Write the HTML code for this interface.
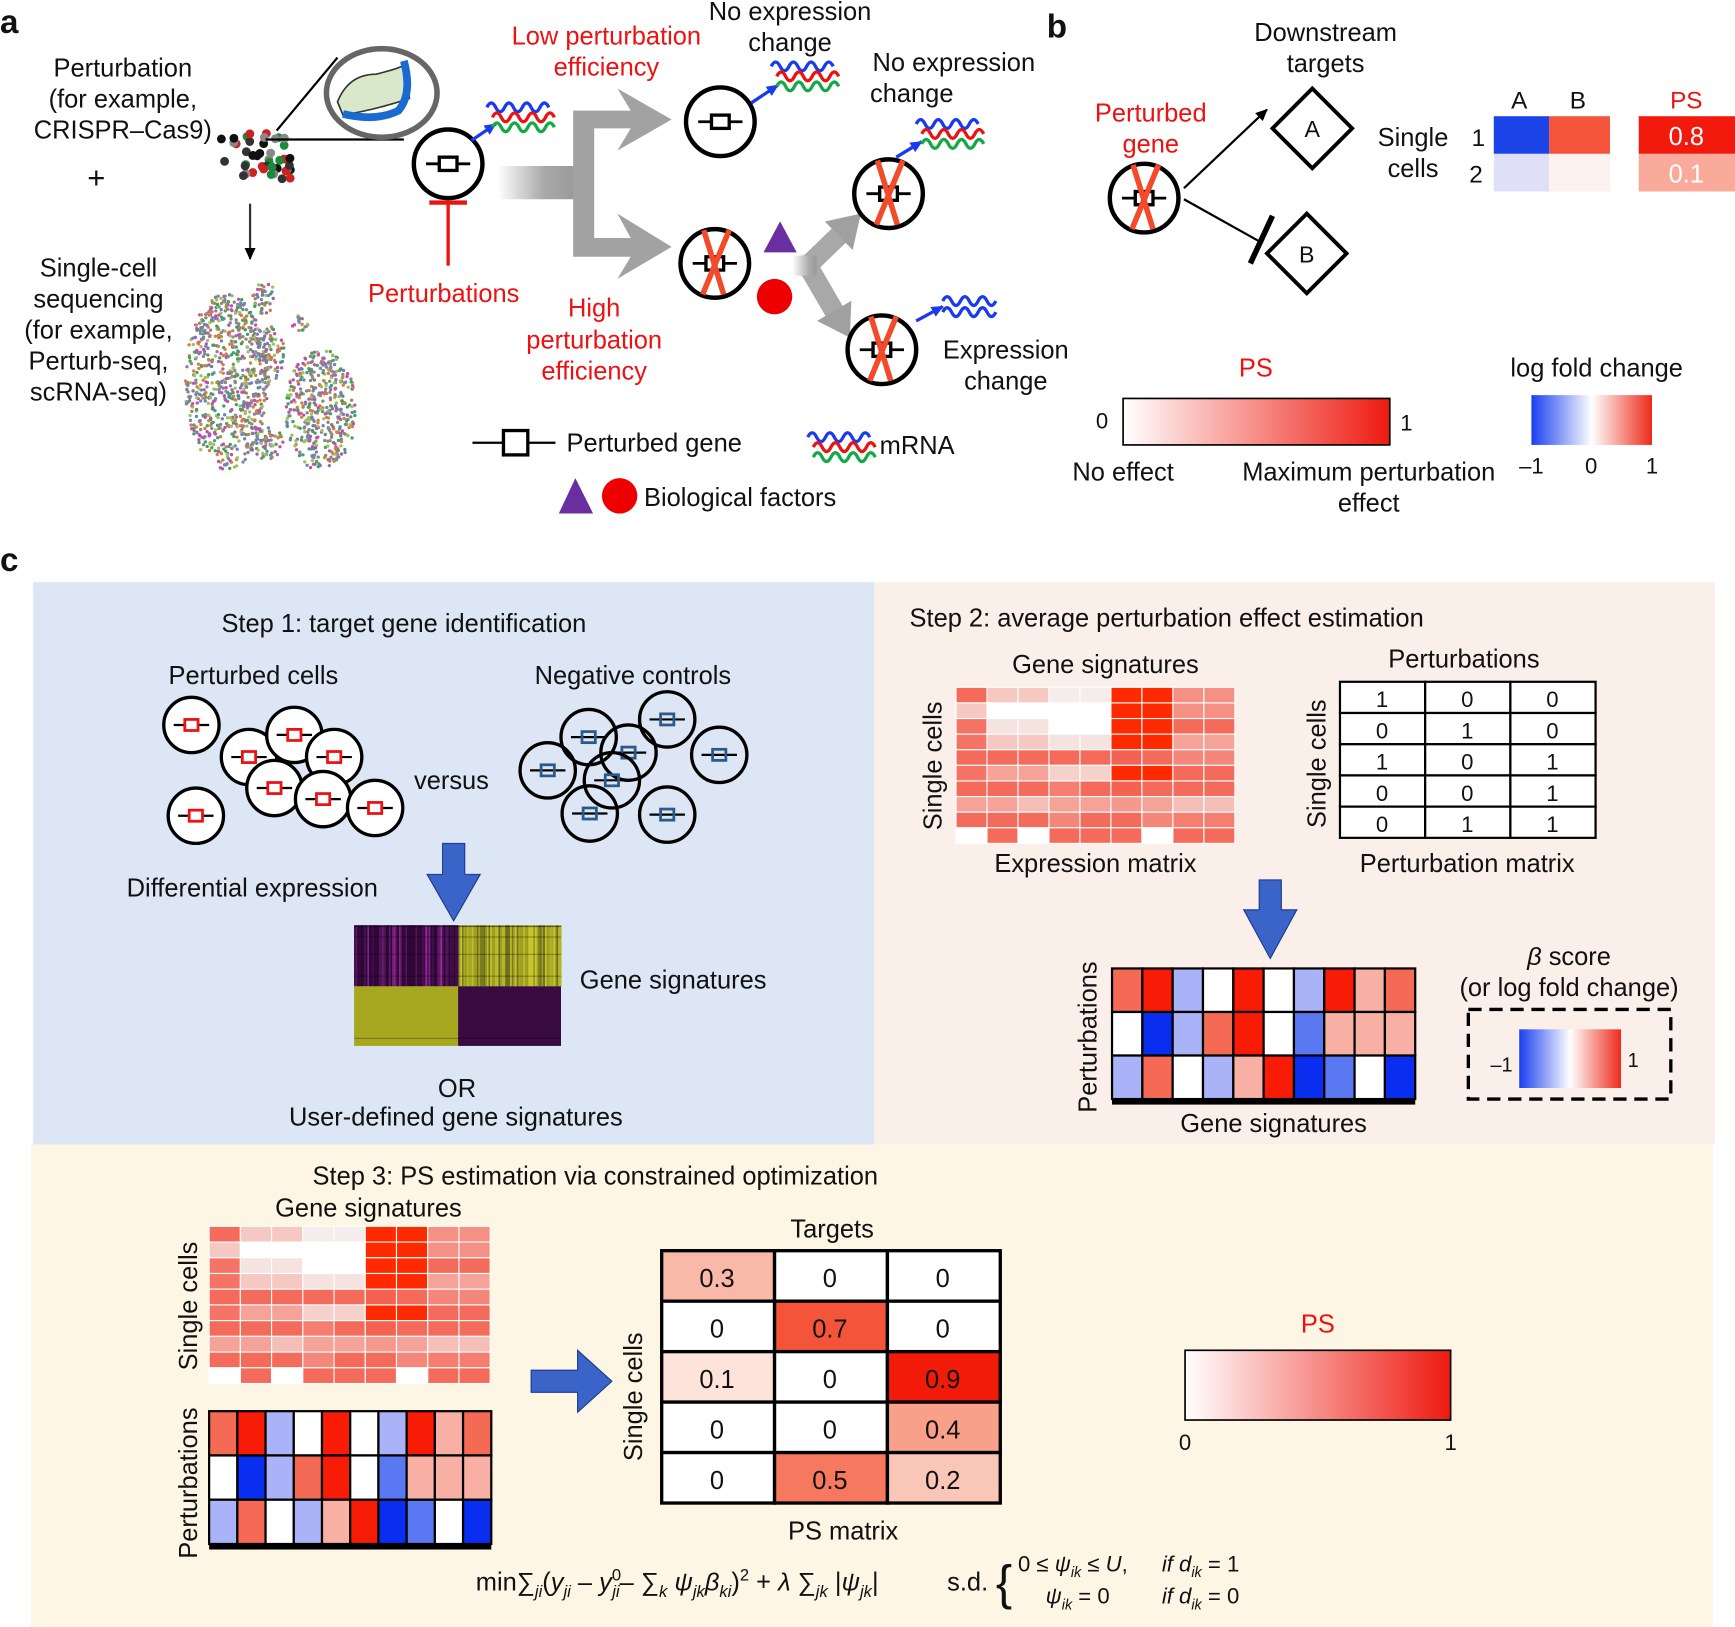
<!DOCTYPE html>
<html><head><meta charset="utf-8"><style>
html,body{margin:0;padding:0;background:#fff}
svg{display:block}
text{font-family:"Liberation Sans",sans-serif;fill:#111}
.r{fill:#ee1111}
</style></head><body>
<svg id="s" width="1735" height="1627" viewBox="0 0 1568 1470" preserveAspectRatio="none" xmlns="http://www.w3.org/2000/svg">
<defs>
<linearGradient id="ps" x1="0" x2="1"><stop offset="0" stop-color="#fff"/><stop offset="1" stop-color="#ee1a10"/></linearGradient>
<linearGradient id="lfc" x1="0" x2="1"><stop offset="0" stop-color="#1a3ff0"/><stop offset="0.5" stop-color="#fff"/><stop offset="1" stop-color="#ee2a1a"/></linearGradient>
<linearGradient id="gr" x1="0" x2="1"><stop offset="0" stop-color="#fff"/><stop offset="0.6" stop-color="#a8a8a8"/><stop offset="1" stop-color="#9a9a9a"/></linearGradient>
<linearGradient id="gr2" x1="0" x2="1"><stop offset="0" stop-color="#fff"/><stop offset="0.7" stop-color="#aaa"/><stop offset="1" stop-color="#999"/></linearGradient>
<g id="cell"><circle r="31" fill="#fff" stroke="#000" stroke-width="4"/><line x1="-20" y1="0" x2="20" y2="0" stroke="#000" stroke-width="2.5"/><rect x="-8" y="-6" width="16" height="12" fill="#fff" stroke="#000" stroke-width="3"/></g>
<g id="xc"><use href="#cell"/><line x1="-10" y1="-30" x2="8" y2="28" stroke="#f24a2a" stroke-width="5"/><line x1="13" y1="-30" x2="-11" y2="28" stroke="#f24a2a" stroke-width="5"/></g>
<g id="rc"><circle r="25" fill="#fff" stroke="#000" stroke-width="3"/><line x1="-16" y1="0" x2="16" y2="0" stroke="#000" stroke-width="2"/><rect x="-6" y="-5" width="12" height="10" fill="#fff" stroke="#e11" stroke-width="2.5"/></g>
<g id="bc"><circle r="25" fill="none" stroke="#000" stroke-width="3"/><line x1="-16" y1="0" x2="16" y2="0" stroke="#000" stroke-width="2"/><rect x="-6" y="-5" width="12" height="10" fill="none" stroke="#2a5a8a" stroke-width="2.5"/></g>
<g id="wv"><path d="M0,0 q4,-8 8,0 t8,0 t8,0 t8,0 t8,0 t8,0 t8,0" fill="none" stroke="#1a3af0" stroke-width="3"/><path d="M0,9 q4,-8 8,0 t8,0 t8,0 t8,0 t8,0 t8,0 t8,0" transform="translate(5,0)" fill="none" stroke="#ee1111" stroke-width="3"/><path d="M0,18 q4,-8 8,0 t8,0 t8,0 t8,0 t8,0 t8,0 t8,0" transform="translate(5,0)" fill="none" stroke="#11aa44" stroke-width="3"/></g>
<marker id="ah" markerUnits="userSpaceOnUse" markerWidth="12" markerHeight="12" refX="10" refY="5" orient="auto"><path d="M0,0 L11,5 L0,10 z" fill="#1a3af0"/></marker>
<marker id="ak" markerUnits="userSpaceOnUse" markerWidth="12" markerHeight="12" refX="10" refY="5" orient="auto"><path d="M0,0 L11,5 L0,10 z" fill="#000"/></marker>
</defs>

<text x="0" y="30" font-size="30" font-weight="bold">a</text>
<text x="946" y="34" font-size="30" font-weight="bold">b</text>
<text x="0" y="516" font-size="30" font-weight="bold">c</text>

<g font-size="23" text-anchor="middle">
<text x="111" y="69">Perturbation</text>
<text x="111" y="97">(for example,</text>
<text x="111" y="125">CRISPR–Cas9)</text>
<text x="87" y="170" font-size="28">+</text>
<text x="89" y="250">Single-cell</text>
<text x="89" y="278">sequencing</text>
<text x="89" y="306">(for example,</text>
<text x="89" y="334">Perturb-seq,</text>
<text x="89" y="362">scRNA-seq)</text>
</g>
<g id="dots"></g>
<line x1="240" y1="126" x2="365" y2="126" stroke="#000" stroke-width="2"/>
<line x1="250" y1="118" x2="305" y2="52" stroke="#000" stroke-width="2"/>
<ellipse cx="345" cy="84" rx="50" ry="40" fill="#fff" stroke="#666" stroke-width="5"/>
<path d="M305,92 q10,-25 35,-25 q20,-5 25,-8 l5,30 q-30,10 -60,15 z" fill="#d9e8c8" stroke="#333" stroke-width="1.5"/>
<path d="M365,55 q8,30 -5,45 q-20,10 -50,3" fill="none" stroke="#1a6ad0" stroke-width="7"/>
<line x1="226" y1="184" x2="226" y2="234" stroke="#333" stroke-width="2" marker-end="url(#ak)"/>
<g id="umap"></g>

<use href="#cell" x="405" y="148"/>
<line x1="426" y1="127" x2="448" y2="112" stroke="#1a3af0" stroke-width="3" marker-end="url(#ah)"/>
<use href="#wv" x="440" y="97"/>
<line x1="405" y1="183" x2="405" y2="240" stroke="#ee1111" stroke-width="3"/>
<line x1="388" y1="183" x2="422" y2="183" stroke="#ee1111" stroke-width="4"/>
<text x="401" y="273" font-size="23" class="r" text-anchor="middle">Perturbations</text>
<text x="548" y="40" font-size="23" class="r" text-anchor="middle">Low perturbation</text>
<text x="548" y="68" font-size="23" class="r" text-anchor="middle">efficiency</text>
<text x="537" y="286" font-size="23" class="r" text-anchor="middle">High</text>
<text x="537" y="315" font-size="23" class="r" text-anchor="middle">perturbation</text>
<text x="537" y="343" font-size="23" class="r" text-anchor="middle">efficiency</text>
<polygon points="450,150 520,150 520,180 450,180" fill="url(#gr)"/>
<polygon points="518,100 570,100 558,80 607,108 558,136 570,116 537,116 537,215 570,215 558,193 607,223 558,252 570,232 518,232" fill="#a2a2a2"/>
<use href="#cell" x="651" y="110"/>
<line x1="679" y1="93" x2="703" y2="77" stroke="#1a3af0" stroke-width="3" marker-end="url(#ah)"/>
<use href="#wv" x="697" y="60"/>
<text x="714" y="18" font-size="23" text-anchor="middle">No expression</text>
<text x="714" y="46" font-size="23" text-anchor="middle">change</text>
<use href="#xc" x="646" y="238"/>
<polygon points="705,200 690,228 720,228" fill="#6a2ea0"/>
<circle cx="700" cy="268" r="16" fill="#ee0000"/>
<!-- second-stage gray arrows -->
<polygon points="722,230 738,230 738,250 722,250" fill="url(#gr2)"/>
<line x1="730" y1="240" x2="760" y2="211" stroke="#a8a8a8" stroke-width="18"/>
<polygon points="778,193 770.6,225.9 745.4,200.1" fill="#a0a0a0"/>
<line x1="730" y1="240" x2="755" y2="283" stroke="#a8a8a8" stroke-width="18"/>
<polygon points="768,305 769.4,271.7 738.4,289.9" fill="#a0a0a0"/>
<rect x="716" y="231" width="22" height="18" fill="url(#gr2)"/>
<use href="#xc" x="803" y="175"/>
<line x1="810" y1="142" x2="833" y2="128" stroke="#1a3af0" stroke-width="3" marker-end="url(#ah)"/>
<use href="#wv" x="828" y="112"/>
<text x="862" y="64" font-size="23" text-anchor="middle">No expression</text>
<text x="824" y="92" font-size="23" text-anchor="middle">change</text>
<use href="#xc" x="797" y="316"/>
<line x1="828" y1="290" x2="852" y2="277" stroke="#1a3af0" stroke-width="3" marker-end="url(#ah)"/>
<path d="M852,272 q4,-8 8,0 t8,0 t8,0 t8,0 t8,0 t8,0" fill="none" stroke="#1a3af0" stroke-width="3"/>
<path d="M852,282 q4,-8 8,0 t8,0 t8,0 t8,0 t8,0 t8,0" fill="none" stroke="#1a3af0" stroke-width="3"/>
<text x="909" y="324" font-size="23" text-anchor="middle">Expression</text>
<text x="909" y="352" font-size="23" text-anchor="middle">change</text>
<line x1="427" y1="400" x2="502" y2="400" stroke="#000" stroke-width="2"/>
<rect x="455" y="389" width="22" height="22" fill="#fff" stroke="#000" stroke-width="3"/>
<text x="512" y="408" font-size="23">Perturbed gene</text>
<use href="#wv" x="730" y="395"/>
<text x="795" y="410" font-size="23">mRNA</text>
<polygon points="520,432 505,464 536,464" fill="#6a2ea0"/>
<circle cx="560" cy="448" r="16" fill="#ee0000"/>
<text x="582" y="457" font-size="23">Biological factors</text>

<!-- panel b -->
<text x="1198" y="37" font-size="23" text-anchor="middle">Downstream</text>
<text x="1198" y="65" font-size="23" text-anchor="middle">targets</text>
<text x="1040" y="110" font-size="23" class="r" text-anchor="middle">Perturbed</text>
<text x="1040" y="138" font-size="23" class="r" text-anchor="middle">gene</text>
<use href="#xc" x="1034" y="179"/>
<line x1="1070" y1="170" x2="1145" y2="99" stroke="#000" stroke-width="2" marker-end="url(#ak)"/>
<line x1="1070" y1="180" x2="1138" y2="218" stroke="#000" stroke-width="2"/>
<line x1="1130" y1="238" x2="1150" y2="195" stroke="#000" stroke-width="5"/>
<polygon points="1186,80 1222,116 1186,152 1150,116" fill="#fff" stroke="#000" stroke-width="3.5"/>
<text x="1186" y="124" font-size="21" text-anchor="middle">A</text>
<polygon points="1181,193 1217,229 1181,265 1145,229" fill="#fff" stroke="#000" stroke-width="3.5"/>
<text x="1181" y="237" font-size="21" text-anchor="middle">B</text>
<text x="1277" y="132" font-size="23" text-anchor="middle">Single</text>
<text x="1277" y="160" font-size="23" text-anchor="middle">cells</text>
<text x="1336" y="132" font-size="22" text-anchor="middle">1</text>
<text x="1334" y="165" font-size="22" text-anchor="middle">2</text>
<text x="1373" y="98" font-size="22" text-anchor="middle">A</text>
<text x="1426" y="98" font-size="22" text-anchor="middle">B</text>
<rect x="1350" y="105" width="50" height="34" fill="#1a44e8"/>
<rect x="1400" y="105" width="55" height="34" fill="#f5533a"/>
<rect x="1350" y="139" width="50" height="34" fill="#dfe0f8"/>
<rect x="1400" y="139" width="55" height="34" fill="#fdf2f0"/>
<text x="1524" y="98" font-size="22" class="r" text-anchor="middle">PS</text>
<rect x="1481" y="105" width="87" height="34" fill="#f21a0c"/>
<rect x="1481" y="139" width="87" height="34" fill="#f9aa9a"/>
<text x="1524" y="131" font-size="23" text-anchor="middle" style="fill:#fff">0.8</text>
<text x="1524" y="165" font-size="23" text-anchor="middle" style="fill:#fff">0.1</text>
<text x="1135" y="340" font-size="23" class="r" text-anchor="middle">PS</text>
<rect x="1015" y="360" width="241" height="42" fill="url(#ps)" stroke="#000" stroke-width="1.5"/>
<text x="996" y="387" font-size="20" text-anchor="middle">0</text>
<text x="1271" y="389" font-size="20" text-anchor="middle">1</text>
<text x="1015" y="434" font-size="23" text-anchor="middle">No effect</text>
<text x="1237" y="434" font-size="23" text-anchor="middle">Maximum perturbation</text>
<text x="1237" y="462" font-size="23" text-anchor="middle">effect</text>
<text x="1443" y="340" font-size="23" text-anchor="middle">log fold change</text>
<rect x="1384" y="357" width="109" height="45" fill="url(#lfc)"/>
<text x="1384" y="428" font-size="20" text-anchor="middle">–1</text>
<text x="1438" y="428" font-size="20" text-anchor="middle">0</text>
<text x="1493" y="428" font-size="20" text-anchor="middle">1</text>

<rect x="30" y="526" width="760" height="508" fill="#dce6f4"/>
<rect x="790" y="526" width="760" height="508" fill="#fbefea"/>
<rect x="28" y="1034" width="1520" height="436" fill="#fdf6e5"/>

<text x="365" y="571" font-size="23" text-anchor="middle">Step 1: target gene identification</text>
<text x="229" y="618" font-size="23" text-anchor="middle">Perturbed cells</text>
<text x="572" y="618" font-size="23" text-anchor="middle">Negative controls</text>
<use href="#rc" x="173" y="655"/><use href="#rc" x="225" y="684"/><use href="#rc" x="266" y="664"/><use href="#rc" x="302" y="684"/><use href="#rc" x="248" y="712"/><use href="#rc" x="292" y="722"/><use href="#rc" x="339" y="730"/><use href="#rc" x="177" y="737"/>
<use href="#bc" x="532" y="666"/><use href="#bc" x="603" y="650"/><use href="#bc" x="650" y="682"/><use href="#bc" x="495" y="696"/><use href="#bc" x="568" y="680"/><use href="#bc" x="553" y="705"/><use href="#bc" x="533" y="735"/><use href="#bc" x="603" y="736"/>
<text x="408" y="713" font-size="23" text-anchor="middle">versus</text>
<polygon points="400,762 420,762 420,790 434,790 410,832 386,790 400,790" fill="#3a64c8" stroke="#1a3a90"/>
<text x="228" y="810" font-size="23" text-anchor="middle">Differential expression</text>
<g id="degs"></g>
<text x="524" y="893" font-size="23">Gene signatures</text>
<text x="413" y="991" font-size="23" text-anchor="middle">OR</text>
<text x="412" y="1017" font-size="23" text-anchor="middle">User-defined gene signatures</text>

<text x="822" y="566" font-size="23">Step 2: average perturbation effect estimation</text>
<text x="999" y="608" font-size="23" text-anchor="middle">Gene signatures</text>
<g id="expr1"></g>
<text transform="translate(851,692) rotate(-90)" font-size="23" text-anchor="middle">Single cells</text>
<text x="990" y="788" font-size="23" text-anchor="middle">Expression matrix</text>
<text x="1323" y="603" font-size="23" text-anchor="middle">Perturbations</text>
<text transform="translate(1198,690) rotate(-90)" font-size="23" text-anchor="middle">Single cells</text>
<g id="pm"></g>
<text x="1326" y="788" font-size="23" text-anchor="middle">Perturbation matrix</text>
<polygon points="1138,795 1158,795 1158,822 1172,822 1148,866 1124,822 1138,822" fill="#3a64c8" stroke="#1a3a90"/>
<g id="beta1"></g>
<text transform="translate(991,937) rotate(-90)" font-size="23" text-anchor="middle">Perturbations</text>
<text x="1151" y="1023" font-size="23" text-anchor="middle">Gene signatures</text>
<text x="1418" y="872" font-size="23" text-anchor="middle"><tspan font-style="italic">β</tspan> score</text>
<text x="1418" y="900" font-size="23" text-anchor="middle">(or log fold change)</text>
<rect x="1327" y="912" width="183" height="81" fill="none" stroke="#000" stroke-width="3" stroke-dasharray="12,7"/>
<rect x="1373" y="930" width="92" height="53" fill="url(#lfc)"/>
<text x="1357" y="968" font-size="18" text-anchor="middle">–1</text>
<text x="1476" y="964" font-size="18" text-anchor="middle">1</text>

<text x="538" y="1070" font-size="23" text-anchor="middle">Step 3: PS estimation via constrained optimization</text>
<text x="333" y="1099" font-size="23" text-anchor="middle">Gene signatures</text>
<g id="expr2"></g>
<text transform="translate(178,1180) rotate(-90)" font-size="23" text-anchor="middle">Single cells</text>
<g id="beta2"></g>
<text transform="translate(178,1340) rotate(-90)" font-size="23" text-anchor="middle">Perturbations</text>
<polygon points="480,1238 522,1238 522,1220 553,1248 522,1276 522,1258 480,1258" fill="#3a64c8" stroke="#1a3a90"/>
<text x="752" y="1118" font-size="23" text-anchor="middle">Targets</text>
<text transform="translate(580,1262) rotate(-90)" font-size="23" text-anchor="middle">Single cells</text>
<g id="psm"></g>
<text x="762" y="1391" font-size="23" text-anchor="middle">PS matrix</text>
<text x="1191" y="1204" font-size="23" class="r" text-anchor="middle">PS</text>
<rect x="1071" y="1220" width="240" height="63" fill="url(#ps)" stroke="#000" stroke-width="1.5"/>
<text x="1071" y="1310" font-size="20" text-anchor="middle">0</text>
<text x="1311" y="1310" font-size="20" text-anchor="middle">1</text>
<text x="430" y="1437" font-size="23">min∑<tspan font-size="15" dy="6" font-style="italic">ji</tspan><tspan dy="-6">(</tspan><tspan font-style="italic">y</tspan><tspan font-size="15" dy="6" font-style="italic">ji</tspan><tspan dy="-6"> – </tspan><tspan font-style="italic">y</tspan><tspan font-size="15" dy="-9">0</tspan><tspan font-size="15" dx="-8" dy="15" font-style="italic">ji</tspan><tspan dy="-6">– ∑</tspan><tspan font-size="15" dy="6" font-style="italic">k</tspan><tspan dy="-6" font-style="italic"> ψ</tspan><tspan font-size="15" dy="6" font-style="italic">jk</tspan><tspan dy="-6" font-style="italic">β</tspan><tspan font-size="15" dy="6" font-style="italic">ki</tspan><tspan dy="-6">)</tspan><tspan font-size="15" dy="-9">2</tspan><tspan dy="9"> + </tspan><tspan font-style="italic">λ</tspan><tspan> ∑</tspan><tspan font-size="15" dy="6" font-style="italic">jk</tspan><tspan dy="-6"> |</tspan><tspan font-style="italic">ψ</tspan><tspan font-size="15" dy="6" font-style="italic">jk</tspan><tspan dy="-6">|</tspan></text>
<text x="856" y="1437" font-size="23">s.d.</text>
<text x="900" y="1445" font-size="44">{</text>
<text x="920" y="1420" font-size="20">0 ≤ <tspan font-style="italic">ψ</tspan><tspan font-size="13" dy="5" font-style="italic">ik</tspan><tspan dy="-5"> ≤ </tspan><tspan font-style="italic">U</tspan>,</text>
<text x="945" y="1449" font-size="20" font-style="italic">ψ<tspan font-size="13" dy="5">ik</tspan><tspan dy="-5" font-style="normal"> = 0</tspan></text>
<text x="1050" y="1420" font-size="20" font-style="italic">if d<tspan font-size="13" dy="5">ik</tspan><tspan dy="-5" font-style="normal"> = 1</tspan></text>
<text x="1050" y="1449" font-size="20" font-style="italic">if d<tspan font-size="13" dy="5">ik</tspan><tspan dy="-5" font-style="normal"> = 0</tspan></text>
</svg>
<script>
var NS="http://www.w3.org/2000/svg";
function R(g,x,y,w,h,f,extra){var r=document.createElementNS(NS,"rect");r.setAttribute("x",x);r.setAttribute("y",y);r.setAttribute("width",w);r.setAttribute("height",h);r.setAttribute("fill",f);if(extra)for(var k in extra)r.setAttribute(k,extra[k]);document.getElementById(g).appendChild(r);}
function T(g,x,y,s,fs){var t=document.createElementNS(NS,"text");t.setAttribute("x",x);t.setAttribute("y",y);t.setAttribute("font-size",fs);t.setAttribute("text-anchor","middle");t.textContent=s;document.getElementById(g).appendChild(t);}
var E=[[.8,.3,.3,.1,.1,1,1,.6,.6],[.3,0,0,0,0,1,1,.6,.6],[.75,.15,.15,0,0,1,1,.8,.8],[.75,.3,.3,.15,.15,1,1,.5,.5],[.8,.8,.8,.8,.8,.85,.8,.65,.65],[.75,.5,.5,.25,.25,1,1,.8,.8],[.8,.8,.8,.7,.8,.85,.8,.8,.8],[.5,.5,.35,.5,.5,.55,.5,.35,.35],[.8,.8,.8,.65,.8,.8,.65,.7,.7],[0,.8,0,.8,.8,.8,0,.8,.8]];
function col(v){if(v>=1)return "#ff2a00";if(v<=0)return "#ffffff";var g=Math.round(255-(255-70)*v),b=Math.round(255-(255-50)*v);return "rgb(245,"+g+","+b+")";}
function expr(g,x0,y0,w,h){var cw=w/9,rh=h/10;for(var i=0;i<10;i++)for(var j=0;j<9;j++)R(g,x0+j*cw,y0+i*rh,cw,rh,col(E[i][j]),{stroke:"#fff","stroke-width":"1"});}
expr("expr1",864,621,252,141);expr("expr2",189,1108,254,142);
var B=[["#f46a55","#f81c06","#aab2f8","#fff","#f81c06","#fff","#aab2f8","#f81c06","#f9b0a4","#f46a55"],["#fff","#0a2ef0","#aab2f8","#f46a55","#f81c06","#fff","#5a78f2","#f9b0a4","#f9b0a4","#f9b0a4"],["#aab2f8","#f46a55","#fff","#aab2f8","#f9b0a4","#f81c06","#0a2ef0","#5a78f2","#fff","#0a2ef0"]];
function beta(g,x0,y0,w,h){var cw=w/10,rh=h/3;for(var i=0;i<3;i++)for(var j=0;j<10;j++)R(g,x0+j*cw,y0+i*rh,cw,rh,B[i][j],{stroke:"#000","stroke-width":"2"});R(g,x0,y0+h,w,5,"#000");}
beta("beta1",1005,875,274,118);beta("beta2",189,1275,255,120);
var P=[[1,0,0],[0,1,0],[1,0,1],[0,0,1],[0,1,1]];
for(var i=0;i<5;i++)for(var j=0;j<3;j++){R("pm",1211+j*77,616+i*28.2,77,28.2,"#fff",{stroke:"#000","stroke-width":"2"});T("pm",1211+j*77+38,616+i*28.2+23,P[i][j],20);}
var S=[["0.3","0","0"],["0","0.7","0"],["0.1","0","0.9"],["0","0","0.4"],["0","0.5","0.2"]];
var SC={"0":"#fff","0.3":"#f9b8a8","0.7":"#f4553a","0.1":"#fde3da","0.9":"#f21a08","0.4":"#f8a08a","0.5":"#f6785e","0.2":"#fac6b8"};
for(var i=0;i<5;i++)for(var j=0;j<3;j++){R("psm",598+j*102,1130+i*45.6,102,45.6,SC[S[i][j]],{stroke:"#000","stroke-width":"3"});T("psm",598+j*102+50,1130+i*45.6+33,S[i][j],23);}
var seed=7;function rnd(){seed=(seed*16807)%2147483647;return seed/2147483647;}
// DEG heatmap: quadrants
R("degs",320,836,94,55,"#3a0a42");R("degs",414,836,93,55,"#8a8a28");
R("degs",320,891,94,54,"#a8a820");R("degs",414,891,93,54,"#3a0a42");
for(var x=320;x<507;x+=1.5){for(var q=0;q<2;q++){var top=q==0;var left=x<414;var yel=(top&&!left)||(!top&&left);var y0=top?836:891;var h=top?55:54;var c;if(yel){var p=rnd();c=p<.35?"#c8c830":(p<.6?"#6a6a20":"#a0a020");}else{var p=rnd();c=p<.2?"#9a2a9a":(p<.35?"#5a1a60":"#300838");}R("degs",x,y0,1.5,h,c,{opacity:"0.8"});}}
for(var k=0;k<6;k++){R("degs",320,836+rnd()*110,187,1,"#000",{opacity:"0.3"});}
var dc=["#111","#c22","#1a8a3a","#888","#333"];
for(var k=0;k<45;k++){var c=document.createElementNS(NS,"circle");c.setAttribute("cx",200+rnd()*65);c.setAttribute("cy",120+rnd()*42);c.setAttribute("r",4);c.setAttribute("fill",dc[k%5]);document.getElementById("dots").appendChild(c);}
var uc=["#c050b0","#40a060","#7080c0","#d08040","#888","#a0c060"];
var blobs=[[205,345,38,80],[290,370,32,55],[238,268,10,16],[272,292,8,8],[245,320,12,25],[240,400,18,15]];
for(var b=0;b<blobs.length;b++){var bl=blobs[b];var n=Math.round(bl[2]*bl[3]/4);for(var k=0;k<n;k++){var a=rnd()*6.283,rr=Math.sqrt(rnd());var c=document.createElementNS(NS,"circle");c.setAttribute("cx",bl[0]+Math.cos(a)*rr*bl[2]);c.setAttribute("cy",bl[1]+Math.sin(a)*rr*bl[3]);c.setAttribute("r",1.5);c.setAttribute("fill",uc[k%6]);document.getElementById("umap").appendChild(c);}}
</script>
</body></html>
